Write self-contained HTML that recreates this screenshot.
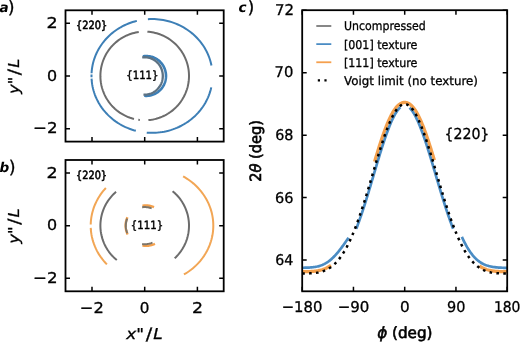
<!DOCTYPE html>
<html><head><meta charset="utf-8"><style>html,body{margin:0;padding:0;background:#fff;overflow:hidden}svg{display:block}</style></head>
<body>
<svg width="520" height="342" viewBox="0 0 520 342" text-rendering="geometricPrecision" font-family='"DejaVu Sans", "Liberation Sans", sans-serif'>
<rect width="520" height="342" fill="#fff"/>
<path d="M147.89,19.18 L150.08,19.08 L152.28,19.05 L154.48,19.1 L156.67,19.22 L158.86,19.42 L161.04,19.69 L163.21,20.04 L165.36,20.46 L167.5,20.95 L169.61,21.51 L171.7,22.15 L173.77,22.86 L175.81,23.64 L177.81,24.49 L179.78,25.4 L181.72,26.39 L183.61,27.44 L185.47,28.55 L187.28,29.72 L189.04,30.96 L190.75,32.26 L192.42,33.61 L194.02,35.02 L195.58,36.48 L197.07,38 L198.51,39.56 L199.89,41.18 L201.2,42.84 L202.45,44.54 L203.63,46.28 L204.74,48.07 L205.78,49.89 L206.75,51.74 L207.65,53.63 L208.48,55.55 L209.23,57.49 L209.9,59.46 L210.5,61.45 L211.02,63.46 L211.47,65.48 M211.26,87.39 L210.78,89.41 L210.22,91.41 L209.59,93.4 L208.87,95.35 L208.08,97.29 L207.22,99.19 L206.29,101.07 L205.28,102.91 L204.2,104.71 L203.05,106.48 L201.84,108.21 L200.56,109.89 L199.21,111.53 L197.81,113.12 L196.34,114.66 L194.81,116.16 L193.23,117.59 L191.59,118.98 L189.9,120.3 L188.16,121.57 L186.37,122.78 L184.53,123.92 L182.66,125 L180.74,126.02 L178.78,126.97 L176.79,127.85 L174.77,128.67 L172.71,129.41 L170.63,130.09 L168.52,130.69 L166.4,131.22 L164.25,131.67 L162.08,132.05 L159.91,132.36 L157.72,132.6 L155.52,132.75 L153.33,132.84 L151.12,132.84 L148.92,132.78 L146.73,132.63 M135.83,130.78 L133.69,130.18 L131.58,129.51 L129.5,128.77 L127.44,127.95 L125.42,127.07 L123.44,126.11 L121.49,125.09 L119.59,124 L117.73,122.84 L115.91,121.62 L114.15,120.34 L112.44,119 L110.78,117.6 L109.17,116.14 L107.63,114.63 L106.14,113.06 L104.72,111.45 L103.36,109.79 L102.07,108.08 L100.84,106.33 L99.69,104.53 L98.6,102.7 L97.59,100.83 L96.65,98.93 L95.79,96.99 L95,95.03 L94.29,93.04 L93.66,91.03 L93.11,89 L92.64,86.95 L92.25,84.89 L91.94,82.81 L91.71,80.72 L91.57,78.63 M91.52,77.34 L91.5,76.41 L91.5,75.49 L91.52,74.56 M91.57,73.27 L91.71,71.21 L91.93,69.15 L92.23,67.11 L92.62,65.07 L93.07,63.05 L93.61,61.05 L94.22,59.07 L94.91,57.11 L95.68,55.17 L96.52,53.26 L97.43,51.38 L98.41,49.54 L99.47,47.72 L100.59,45.95 L101.78,44.21 L103.04,42.52 L104.36,40.87 L105.75,39.27 L107.2,37.71 L108.7,36.21 L110.26,34.76 L111.88,33.36 L113.55,32.02 L115.27,30.74 L117.04,29.51 L118.85,28.35 L120.71,27.25 L122.61,26.21 L124.55,25.24 L126.53,24.34 L128.54,23.5 L130.58,22.74 L132.64,22.04 L134.74,21.42 L136.85,20.86" stroke="#3d7fb6" stroke-width="2.0" fill="none"/>
<path d="M147.4,31.73 L148.98,31.86 L150.55,32.04 L152.11,32.27 L153.67,32.57 L155.21,32.91 L156.74,33.32 L158.25,33.77 L159.74,34.28 L161.22,34.85 L162.68,35.46 L164.11,36.13 L165.52,36.85 L166.9,37.61 L168.25,38.43 L169.58,39.29 L170.87,40.2 L172.13,41.16 L173.35,42.16 L174.54,43.2 L175.68,44.29 L176.79,45.41 L177.86,46.58 L178.89,47.78 L179.87,49.02 L180.81,50.29 L181.7,51.59 L182.55,52.93 L183.35,54.29 L184.09,55.69 L184.79,57.1 L185.44,58.54 L186.03,60.01 L186.57,61.49 L187.06,63 L187.5,64.52 L187.88,66.05 L188.21,67.6 L188.48,69.15 L188.69,70.72 L188.85,72.29 L188.95,73.87 L189,75.45 L188.99,77.03 L188.92,78.61 L188.8,80.18 L188.62,81.75 L188.38,83.32 L188.09,84.87 L187.75,86.41 L187.35,87.94 L186.89,89.45 L186.38,90.95 L185.82,92.43 L185.21,93.88 L184.54,95.32 L183.83,96.72 L183.06,98.11 L182.25,99.46 L181.38,100.79 L180.47,102.08 L179.52,103.34 L178.52,104.56 L177.48,105.75 L176.39,106.9 L175.27,108.01 L174.11,109.08 L172.91,110.11 L171.67,111.09 L170.4,112.03 L169.1,112.93 L167.76,113.77 L166.4,114.57 L165.01,115.32 L163.59,116.02 L162.15,116.67 L160.69,117.27 L159.2,117.81 L157.7,118.3 L156.18,118.74 L154.65,119.12 L153.1,119.45 L151.54,119.72 L149.98,119.93 L148.41,120.09 M133.98,118.93 L132.47,118.53 L130.97,118.07 L129.48,117.55 L128.02,116.99 L126.58,116.37 L125.16,115.71 L123.76,114.99 L122.39,114.22 L121.05,113.41 L119.74,112.55 L118.46,111.64 L117.21,110.69 L116,109.69 L114.82,108.66 L113.68,107.58 L112.58,106.46 L111.52,105.3 L110.5,104.11 L109.53,102.88 L108.59,101.62 L107.71,100.32 L106.87,99 L106.08,97.64 L105.33,96.26 L104.64,94.86 L103.99,93.43 L103.4,91.97 L102.86,90.5 L102.37,89.01 L101.93,87.5 L101.55,85.98 L101.22,84.45 L100.95,82.9 L100.73,81.35 L100.57,79.79 L100.46,78.22 L100.41,76.65 L100.41,75.08 L100.47,73.52 L100.58,71.95 L100.75,70.39 L100.97,68.84 L101.25,67.29 L101.59,65.76 L101.98,64.24 L102.42,62.73 L102.91,61.25 L103.46,59.77 L104.06,58.32 L104.71,56.9 L105.41,55.49 L106.16,54.11 L106.95,52.76 L107.8,51.44 L108.69,50.15 L109.63,48.89 L110.61,47.66 L111.63,46.47 L112.69,45.32 L113.8,44.21 L114.94,43.13 L116.12,42.1 L117.34,41.11 L118.59,40.16 L119.87,39.26 L121.19,38.4 L122.53,37.59 L123.91,36.83 L125.3,36.12 L126.73,35.46 L128.17,34.85 L129.64,34.29 L131.12,33.78 L132.62,33.33 L134.14,32.93 L135.67,32.58 L137.21,32.29 L138.76,32.05 M139.84,119.98 L139.33,119.92 L138.82,119.86 L138.31,119.79" stroke="#6c6c6c" stroke-width="2.0" fill="none"/>
<path d="M142.88,56.35 L143.57,56.24 L144.25,56.16 L144.95,56.1 L145.64,56.06 L146.34,56.05 L147.03,56.06 L147.72,56.1 L148.42,56.17 L149.1,56.25 L149.79,56.36 L150.47,56.5 L151.15,56.66 L151.82,56.85 L152.48,57.06 L153.14,57.29 L153.78,57.54 L154.42,57.82 L155.05,58.12 L155.67,58.44 L156.27,58.79 L156.87,59.15 L157.45,59.54 L158.01,59.95 L158.56,60.37 L159.1,60.82 L159.62,61.29 L160.12,61.77 L160.61,62.27 L161.08,62.79 L161.53,63.32 L161.96,63.87 L162.37,64.44 L162.76,65.02 L163.13,65.61 L163.48,66.22 L163.81,66.84 L164.12,67.47 L164.4,68.11 L164.67,68.76 L164.91,69.41 L165.12,70.08 L165.32,70.75 L165.49,71.44 L165.63,72.12 L165.75,72.81 L165.85,73.51 L165.92,74.2 L165.97,74.9 L166,75.61 L166,76.31 L165.97,77.01 L165.92,77.71 L165.85,78.41 L165.75,79.1 L165.63,79.79 L165.48,80.48 L165.31,81.16 L165.12,81.83 L164.9,82.5 L164.66,83.16 L164.4,83.81 L164.11,84.45 L163.81,85.08 L163.48,85.69 L163.13,86.3 L162.75,86.89 L162.36,87.47 L161.95,88.04 L161.52,88.59 L161.07,89.12 L160.6,89.64 L160.11,90.14 L159.61,90.62 L159.09,91.09 L158.55,91.53 L158,91.96 L157.43,92.37 L156.85,92.75 L156.26,93.12 L155.65,93.46 L155.04,93.79 L154.41,94.09 L153.77,94.36 L153.12,94.62 L152.47,94.85 L151.8,95.06 L151.13,95.24 L150.46,95.4 L149.78,95.54 L149.09,95.65 L148.4,95.74 L147.71,95.8 L147.02,95.84 L146.32,95.85 L145.63,95.84 L144.93,95.8 L144.24,95.74" stroke="#3d7fb6" stroke-width="2.6" fill="none"/>
<path d="M142.18,57.43 L142.81,57.35 L143.45,57.29 L144.09,57.26 L144.73,57.25 L145.36,57.26 L146,57.3 L146.64,57.36 L147.27,57.44 L147.9,57.54 L148.53,57.67 L149.15,57.82 L149.77,58 L150.38,58.19 L150.98,58.41 L151.57,58.65 L152.16,58.91 L152.74,59.19 L153.3,59.5 L153.86,59.82 L154.4,60.16 L154.94,60.53 L155.46,60.91 L155.96,61.31 L156.46,61.73 L156.93,62.17 L157.4,62.62 L157.84,63.09 L158.27,63.58 L158.69,64.08 L159.08,64.6 L159.46,65.13 L159.82,65.68 L160.16,66.23 L160.49,66.8 L160.79,67.38 L161.07,67.98 L161.33,68.58 L161.58,69.19 L161.8,69.81 L161.99,70.43 L162.17,71.07 L162.33,71.71 L162.46,72.35 L162.57,73 L162.66,73.65 L162.73,74.31 L162.78,74.97 L162.8,75.63 L162.8,76.29 L162.77,76.95 L162.73,77.6 L162.66,78.26 L162.57,78.91 L162.46,79.56 L162.32,80.21 L162.17,80.85 L161.99,81.48 L161.79,82.11 L161.57,82.73 L161.33,83.34 L161.07,83.94 L160.78,84.53 L160.48,85.11 L160.16,85.68 L159.82,86.24 L159.46,86.78 L159.08,87.31 L158.68,87.83 L158.27,88.33 L157.83,88.82 L157.39,89.29 L156.92,89.74 L156.45,90.18 L155.95,90.6 L155.45,91 L154.93,91.38 L154.39,91.74 L153.85,92.09 L153.29,92.41 L152.72,92.71 L152.15,92.99 L151.56,93.25 L150.97,93.49 L150.36,93.71 L149.75,93.91 L149.14,94.08 L148.52,94.23 L147.89,94.36 L147.26,94.46 L146.63,94.54 L145.99,94.6 L145.35,94.64 L144.71,94.65 L144.07,94.64 L143.44,94.6" stroke="#5d7283" stroke-width="2.3" fill="none"/>
<path d="M183.11,176.36 L184.97,177.43 L186.78,178.55 L188.56,179.73 L190.28,180.97 L191.96,182.27 L193.58,183.62 L195.16,185.03 L196.68,186.49 L198.14,187.99 L199.55,189.55 L200.89,191.15 L202.17,192.79 L203.39,194.47 L204.55,196.2 L205.64,197.96 L206.66,199.75 L207.61,201.58 L208.49,203.44 L209.3,205.33 L210.04,207.24 L210.7,209.18 L211.29,211.13 L211.81,213.11 L212.25,215.1 L212.61,217.1 L212.9,219.12 L213.11,221.14 L213.24,223.17 L213.3,225.2 L213.28,227.23 L213.18,229.26 L213,231.29 L212.75,233.31 L212.42,235.32 L212.01,237.32 L211.53,239.3 L210.97,241.26 L210.34,243.21 L209.64,245.13 L208.86,247.03 L208.01,248.9 L207.09,250.74 L206.1,252.55 L205.04,254.33 L203.91,256.07 L202.72,257.77 L201.47,259.43 L200.15,261.05 L198.77,262.63 L197.33,264.15 L195.84,265.63 L194.29,267.06 L192.68,268.44 L191.03,269.76 L189.32,271.02 L187.57,272.23 L185.78,273.38 L183.94,274.47 M106.88,264.37 L105.37,262.78 L103.92,261.14 L102.55,259.45 L101.24,257.71 L100,255.93 L98.83,254.11 L97.73,252.25 L96.71,250.36 L95.77,248.42 L94.9,246.46 L94.11,244.47 L93.4,242.45 L92.78,240.41 L92.23,238.35 L91.77,236.28 L91.39,234.18 L91.09,232.08 L90.87,229.96 L90.75,227.85 M90.71,224.45 L90.8,222.35 L90.97,220.26 L91.23,218.17 L91.56,216.09 L91.98,214.02 L92.48,211.98 L93.06,209.94 L93.71,207.93 L94.45,205.95 L95.27,203.99 L96.16,202.06 L97.12,200.16 L98.16,198.3 L99.28,196.47 L100.46,194.68 L101.72,192.94 L103.04,191.23 L104.42,189.58 L105.88,187.97" stroke="#f2a655" stroke-width="2.0" fill="none"/>
<path d="M172.58,191.22 L173.79,192.24 L174.97,193.3 L176.11,194.41 L177.2,195.55 L178.26,196.73 L179.27,197.95 L180.24,199.21 L181.16,200.49 L182.04,201.82 L182.87,203.17 L183.65,204.55 L184.38,205.95 L185.06,207.38 L185.69,208.84 L186.26,210.32 L186.78,211.81 L187.25,213.33 L187.67,214.86 L188.02,216.4 L188.33,217.96 L188.57,219.52 L188.77,221.1 L188.9,222.68 L188.98,224.26 L189,225.84 L188.96,227.43 L188.87,229.01 L188.72,230.59 L188.52,232.16 L188.26,233.72 L187.94,235.28 L187.57,236.82 L187.14,238.34 L186.66,239.85 L186.13,241.35 L185.54,242.82 L184.9,244.27 L184.21,245.69 L183.46,247.09 L182.67,248.47 L181.83,249.81 L180.94,251.12 L180.01,252.4 L179.03,253.65 L178.01,254.86 L176.94,256.03 L175.83,257.17 L174.69,258.26 M116.82,260.08 L115.6,259.06 L114.43,257.99 L113.28,256.88 L112.19,255.74 L111.13,254.55 L110.11,253.33 L109.14,252.07 L108.22,250.78 L107.34,249.46 L106.51,248.1 L105.73,246.72 L105,245.3 L104.32,243.87 L103.69,242.41 L103.12,240.93 L102.6,239.43 L102.13,237.91 L101.72,236.37 L101.36,234.82 L101.06,233.26 L100.81,231.7 L100.63,230.12 L100.49,228.53 L100.42,226.95 L100.4,225.36 L100.44,223.77 L100.54,222.18 L100.69,220.6 L100.9,219.03 L101.16,217.46 L101.49,215.9 L101.86,214.36 L102.29,212.83 L102.78,211.32 L103.32,209.83 L103.92,208.35 L104.56,206.9 L105.26,205.47 L106.01,204.07 L106.81,202.7 L107.66,201.35 L108.55,200.04 L109.49,198.76 L110.48,197.52 L111.51,196.31 L112.58,195.14 L113.7,194 L114.85,192.91 L116.05,191.86" stroke="#6c6c6c" stroke-width="2.0" fill="none"/>
<path d="M142.44,205.74 L143.22,205.63 L144.01,205.54 L144.8,205.48 L145.58,205.45 L146.37,205.46 L147.16,205.49 L147.95,205.55 L148.73,205.65 L149.51,205.77 L150.28,205.93 L151.05,206.11 L151.81,206.32 L152.56,206.57 L153.3,206.84 L154.03,207.14 M154.93,243.74 L154.24,244.06 L153.55,244.36 L152.85,244.63 L152.13,244.87 L151.41,245.09 L150.68,245.28 L149.95,245.44 L149.2,245.58 L148.46,245.69 L147.71,245.77 L146.95,245.82 L146.2,245.85 L145.45,245.84 L144.69,245.81 L143.94,245.76 L143.19,245.67 L142.44,245.56 M127.65,234.51 L127.34,233.83 L127.05,233.15 L126.79,232.46 L126.55,231.75 L126.34,231.04 L126.15,230.32 L125.99,229.6 L125.86,228.87 L125.75,228.13 L125.68,227.4 L125.63,226.66 L125.6,225.91 L125.61,225.17 L125.64,224.43 L125.7,223.69 L125.78,222.96 L125.89,222.22 L126.03,221.49 L126.2,220.77 L126.39,220.05 L126.61,219.35 L126.86,218.64 L127.13,217.95 L127.43,217.27" stroke="#f4a04c" stroke-width="2.4" fill="none"/>
<path d="M142.13,207.22 L142.88,207.14 L143.62,207.08 L144.37,207.05 L145.11,207.05 L145.86,207.08 L146.6,207.14 L147.34,207.23 L148.08,207.35 L148.81,207.49 L149.53,207.67 L150.25,207.87 L150.96,208.1 L151.66,208.36 M152.51,242.59 L151.86,242.86 L151.2,243.12 L150.53,243.34 L149.85,243.55 L149.17,243.72 L148.47,243.88 L147.78,244 L147.08,244.1 L146.37,244.18 L145.67,244.23 L144.96,244.25 L144.25,244.24 L143.54,244.22 L142.84,244.16 L142.13,244.08 M127.43,233.22 L127.16,232.58 L126.91,231.94 L126.69,231.29 L126.49,230.63 L126.32,229.97 L126.17,229.3 L126.04,228.63 L125.94,227.95 L125.87,227.26 L125.82,226.58 L125.8,225.89 L125.81,225.21 L125.83,224.52 L125.89,223.84 L125.97,223.16 L126.08,222.48 L126.21,221.8 L126.37,221.14 L126.55,220.47 L126.75,219.82 L126.98,219.17 L127.24,218.53" stroke="#7d7569" stroke-width="2" fill="none"/>
<path d="M92,10.3V14.8M92,141.6V137.1M144.7,10.3V14.8M144.7,141.6V137.1M197.4,10.3V14.8M197.4,141.6V137.1M65.5,23.25H70M223.7,23.25H219.2M65.5,75.95H70M223.7,75.95H219.2M65.5,128.65H70M223.7,128.65H219.2" stroke="#000" stroke-width="1.5" fill="none"/>
<rect x="65.5" y="10.3" width="158.2" height="131.3" stroke="#000" stroke-width="1.8" fill="none"/>
<path d="M92,160V164.5M92,291.3V286.8M144.7,160V164.5M144.7,291.3V286.8M197.4,160V164.5M197.4,291.3V286.8M65.5,172.95H70M223.7,172.95H219.2M65.5,225.65H70M223.7,225.65H219.2M65.5,278.35H70M223.7,278.35H219.2" stroke="#000" stroke-width="1.5" fill="none"/>
<rect x="65.5" y="160" width="158.2" height="131.3" stroke="#000" stroke-width="1.8" fill="none"/>
<path d="M302.2,271.63 L303.1,271.63 L304,271.63 L304.9,271.63 L305.79,271.62 L306.69,271.62 L307.59,271.6 L308.49,271.59 L309.39,271.56 L310.29,271.53 L311.19,271.49 L312.09,271.44 L312.98,271.38 L313.88,271.3 L314.78,271.21 L315.68,271.1 L316.58,270.98 L317.48,270.83 L318.38,270.67 L319.27,270.48 L320.17,270.27 L321.07,270.03 L321.97,269.77 L322.87,269.47 L323.77,269.15 L324.67,268.79 L325.57,268.4 L326.46,267.97 L327.36,267.51 L328.26,267.01 L329.16,266.46 L330.06,265.87 L330.96,265.24 M374.6,161.63 L375.18,159.71 L375.75,157.8 L376.33,155.9 L376.91,154.01 L377.49,152.14 L378.06,150.28 L378.64,148.44 L379.22,146.61 L379.8,144.81 L380.38,143.02 L380.95,141.26 L381.53,139.52 L382.11,137.81 L382.69,136.12 L383.27,134.47 L383.85,132.84 L384.43,131.24 L385.01,129.67 L385.59,128.13 L386.17,126.63 L386.76,125.17 L387.34,123.74 L387.92,122.35 L388.5,121 L389.09,119.68 L389.68,118.41 L390.26,117.18 L390.85,116 L391.44,114.85 L392.03,113.76 L392.62,112.7 L393.22,111.7 L393.82,110.74 L394.42,109.82 L395.02,108.96 L395.63,108.14 L396.25,107.38 L396.87,106.66 L397.5,105.99 L398.13,105.38 L398.78,104.81 L399.44,104.3 L400.11,103.85 L400.79,103.45 L401.49,103.11 L402.2,102.84 L402.93,102.63 L403.66,102.49 L404.41,102.42 L405.15,102.43 L405.89,102.51 L406.63,102.67 L407.35,102.89 L408.06,103.18 L408.75,103.53 L409.44,103.94 L410.1,104.4 L410.76,104.93 L411.4,105.5 L412.04,106.13 L412.66,106.81 L413.28,107.53 L413.89,108.31 L414.5,109.14 L415.11,110.01 L415.71,110.93 L416.31,111.9 L416.9,112.92 L417.49,113.98 L418.08,115.09 L418.67,116.24 L419.26,117.44 L419.85,118.68 L420.43,119.96 L421.02,121.28 L421.6,122.64 L422.18,124.04 L422.77,125.47 L423.35,126.94 L423.93,128.45 L424.51,129.99 L425.09,131.57 L425.67,133.17 L426.25,134.81 L426.83,136.48 L427.41,138.17 L427.99,139.89 L428.57,141.63 L429.15,143.4 L429.72,145.18 L430.3,146.99 L430.88,148.82 L431.46,150.67 L432.04,152.53 L432.61,154.41 L433.19,156.3 L433.77,158.2 L434.34,160.12 M479.3,265.84 L480.2,266.43 L481.1,266.98 L482,267.49 L482.9,267.95 L483.8,268.38 L484.7,268.78 L485.6,269.13 L486.5,269.46 L487.4,269.76 L488.3,270.02 L489.2,270.26 L490.1,270.47 L491,270.66 L491.9,270.83 L492.8,270.97 L493.7,271.1 L494.6,271.21 L495.5,271.3 L496.4,271.38 L497.3,271.44 L498.2,271.49 L499.1,271.53 L500,271.56 L500.9,271.59 L501.8,271.6 L502.7,271.62 L503.6,271.62 L504.5,271.63 L505.4,271.63 L506.3,271.63 L507.2,271.63" stroke="#f4a04c" stroke-width="3.3" fill="none" stroke-linejoin="round"/>
<path d="M356.28,228.71 L356.86,227.2 L357.44,225.68 L358.01,224.12 L358.59,222.54 L359.17,220.94 L359.75,219.32 L360.33,217.67 L360.91,216 L361.49,214.3 L362.06,212.59 L362.64,210.85 L363.22,209.1 L363.8,207.32 L364.38,205.53 L364.95,203.72 L365.53,201.9 L366.11,200.05 L366.69,198.2 L367.27,196.33 L367.84,194.44 L368.42,192.55 L369,190.64 L369.57,188.73 L370.15,186.8 L370.73,184.87 L371.31,182.93 L371.88,180.99 L372.46,179.04 L373.04,177.09 L373.61,175.14 L374.19,173.19 L374.77,171.24 L375.34,169.29 L375.92,167.35 L376.5,165.41 L377.07,163.48 L377.65,161.56 L378.23,159.64 L378.8,157.74 L379.38,155.85 L379.96,153.97 L380.53,152.11 L381.11,150.26 L381.68,148.44 L382.26,146.63 L382.83,144.84 L383.41,143.08 L383.99,141.34 L384.56,139.62 L385.14,137.93 L385.71,136.27 L386.28,134.64 L386.86,133.04 L387.43,131.48 L388.01,129.94 L388.58,128.44 L389.15,126.98 L389.73,125.56 L390.3,124.17 L390.87,122.83 L391.44,121.53 L392.01,120.27 L392.58,119.05 L393.15,117.88 L393.72,116.75 L394.29,115.68 L394.85,114.65 L395.42,113.67 L395.98,112.75 L396.54,111.87 L397.1,111.05 L397.65,110.28 L398.2,109.57 L398.75,108.91 L399.29,108.31 L399.83,107.76 L400.36,107.27 M409.56,107.75 L410.1,108.3 L410.64,108.9 L411.19,109.56 L411.74,110.27 L412.3,111.04 L412.85,111.86 L413.41,112.74 L413.98,113.66 L414.54,114.64 L415.11,115.67 L415.67,116.74 L416.24,117.87 L416.81,119.04 L417.38,120.25 L417.95,121.51 L418.52,122.81 L419.1,124.16 L419.67,125.54 L420.24,126.97 L420.81,128.43 L421.39,129.93 L421.96,131.46 L422.54,133.03 L423.11,134.63 L423.68,136.26 L424.26,137.92 L424.83,139.61 L425.41,141.32 L425.99,143.06 L426.56,144.83 L427.14,146.61 L427.71,148.42 L428.29,150.25 L428.86,152.09 L429.44,153.96 L430.02,155.83 L430.59,157.73 L431.17,159.63 L431.75,161.54 L432.32,163.47 L432.9,165.4 L433.48,167.34 L434.05,169.28 L434.63,171.23 L435.21,173.18 L435.78,175.13 L436.36,177.08 L436.94,179.03 L437.51,180.98 L438.09,182.92 L438.67,184.86 L439.25,186.79 L439.82,188.72 L440.4,190.63 L440.98,192.54 L441.56,194.44 L442.13,196.32 L442.71,198.19 L443.29,200.05 L443.87,201.89 L444.44,203.72 L445.02,205.53 L445.6,207.32 L446.18,209.09 L446.76,210.85 L447.33,212.58 L447.91,214.3 L448.49,215.99 L449.07,217.66 L449.65,219.31 L450.23,220.94 L450.81,222.54 L451.39,224.12 L451.96,225.67 L452.54,227.2 L453.12,228.71 M302.2,267.77 L303.07,267.75 L303.95,267.74 L304.82,267.71 L305.7,267.69 L306.57,267.66 L307.45,267.63 L308.32,267.58 L309.2,267.53 L310.07,267.48 L310.95,267.41 L311.82,267.33 L312.69,267.24 L313.57,267.13 L314.44,267.01 L315.32,266.87 L316.19,266.71 L317.07,266.53 L317.94,266.33 L318.82,266.1 L319.69,265.85 L320.57,265.57 L321.44,265.26 L322.32,264.92 L323.19,264.54 L324.06,264.13 L324.94,263.68 L325.81,263.19 L326.69,262.66 L327.56,262.1 L328.44,261.49 L329.31,260.84 L330.19,260.15 L331.06,259.41 L331.94,258.63 L332.81,257.81 L333.68,256.95 L334.56,256.05 L335.43,255.11 L336.31,254.13 L337.18,253.12 L338.06,252.07 L338.93,250.98 L339.81,249.87 L340.68,248.73 L341.56,247.57 L342.43,246.38 L343.31,245.18 L344.18,243.96 L345.05,242.72 L345.93,241.48 L346.8,240.23 L347.68,238.98 L348.55,237.73 M461.87,236.94 L462.74,238.79 L463.62,240.58 L464.49,242.3 L465.36,243.96 L466.23,245.54 L467.1,247.07 L467.97,248.52 L468.85,249.91 L469.72,251.22 L470.59,252.48 L471.46,253.66 L472.33,254.78 L473.2,255.84 L474.08,256.83 L474.95,257.76 L475.82,258.64 L476.69,259.45 L477.56,260.21 L478.43,260.92 L479.31,261.57 L480.18,262.18 L481.05,262.74 L481.92,263.26 L482.79,263.73 L483.66,264.16 L484.54,264.56 L485.41,264.92 L486.28,265.25 L487.15,265.55 L488.02,265.82 L488.89,266.07 L489.77,266.29 L490.64,266.49 L491.51,266.67 L492.38,266.82 L493.25,266.97 L494.12,267.09 L495,267.2 L495.87,267.3 L496.74,267.39 L497.61,267.47 L498.48,267.53 L499.35,267.59 L500.23,267.64 L501.1,267.69 L501.97,267.73 L502.84,267.76 L503.71,267.79 L504.58,267.81 L505.46,267.83 L506.33,267.85 L507.2,267.87" stroke="#4a8cc4" stroke-width="2.7" fill="none" stroke-linejoin="round"/>
<path d="M302.2,273.44 L303.05,273.44 L303.91,273.44 L304.76,273.44 L305.62,273.44 L306.47,273.43 L307.32,273.42 L308.18,273.41 L309.03,273.39 L309.89,273.36 L310.74,273.32 L311.6,273.28 L312.45,273.23 L313.3,273.16 L314.16,273.09 L315.01,273 L315.87,272.89 L316.72,272.77 L317.57,272.63 L318.43,272.47 L319.28,272.29 L320.14,272.09 L320.99,271.86 L321.85,271.62 L322.7,271.34 L323.55,271.04 L324.41,270.71 L325.26,270.35 L326.12,269.95 L326.97,269.53 L327.82,269.07 L328.68,268.57 L329.53,268.03 L330.39,267.46 L331.24,266.84 L332.1,266.18 L332.95,265.48 L333.8,264.74 L334.66,263.94 L335.51,263.1 L336.37,262.21 L337.22,261.27 L338.07,260.28 L338.93,259.23 L339.78,258.13 L340.64,256.98 L341.49,255.76 L342.35,254.5 L343.2,253.17 L344.05,251.78 L344.91,250.34 L345.76,248.83 L346.62,247.27 L347.47,245.64 L348.32,243.95 L349.18,242.21 L350.03,240.4 L350.89,238.53 L351.74,236.59 L352.6,234.6 L353.45,232.55 L354.3,230.44 L355.16,228.27 L356.01,226.05 L356.87,223.77 L357.72,221.43 L358.57,219.04 L359.43,216.6 L360.28,214.11 L361.14,211.58 L361.99,208.99 L362.85,206.37 L363.7,203.71 L364.55,201.01 L365.41,198.27 L366.26,195.5 L367.12,192.71 L367.97,189.89 L368.82,187.05 L369.68,184.19 L370.53,181.32 L371.39,178.44 L372.24,175.55 L373.1,172.66 L373.95,169.77 L374.8,166.89 L375.66,164.03 L376.51,161.17 L377.37,158.34 L378.22,155.53 L379.07,152.75 L379.93,150.01 L380.78,147.3 L381.64,144.64 L382.49,142.03 L383.35,139.47 L384.2,136.96 L385.05,134.52 L385.91,132.15 L386.76,129.84 L387.62,127.61 L388.47,125.46 L389.32,123.39 L390.18,121.41 L391.03,119.52 L391.89,117.73 L392.74,116.03 L393.6,114.44 L394.45,112.95 L395.3,111.57 L396.16,110.3 L397.01,109.14 L397.87,108.1 L398.72,107.17 L399.57,106.37 L400.43,105.68 L401.28,105.12 L402.14,104.68 L402.99,104.37 L403.85,104.18 L404.7,104.12 L405.55,104.18 L406.41,104.37 L407.26,104.68 L408.12,105.12 L408.97,105.68 L409.82,106.37 L410.68,107.17 L411.53,108.1 L412.39,109.14 L413.24,110.3 L414.1,111.57 L414.95,112.95 L415.8,114.44 L416.66,116.03 L417.51,117.73 L418.37,119.52 L419.22,121.41 L420.07,123.39 L420.93,125.46 L421.78,127.61 L422.64,129.84 L423.49,132.15 L424.35,134.52 L425.2,136.96 L426.05,139.47 L426.91,142.03 L427.76,144.64 L428.62,147.3 L429.47,150.01 L430.32,152.75 L431.18,155.53 L432.03,158.34 L432.89,161.17 L433.74,164.03 L434.6,166.89 L435.45,169.77 L436.3,172.66 L437.16,175.55 L438.01,178.44 L438.87,181.32 L439.72,184.19 L440.57,187.05 L441.43,189.89 L442.28,192.71 L443.14,195.5 L443.99,198.27 L444.85,201.01 L445.7,203.71 L446.55,206.37 L447.41,208.99 L448.26,211.58 L449.12,214.11 L449.97,216.6 L450.82,219.04 L451.68,221.43 L452.53,223.77 L453.39,226.05 L454.24,228.27 L455.1,230.44 L455.95,232.55 L456.8,234.6 L457.66,236.59 L458.51,238.53 L459.37,240.4 L460.22,242.21 L461.07,243.95 L461.93,245.64 L462.78,247.27 L463.64,248.83 L464.49,250.34 L465.35,251.78 L466.2,253.17 L467.05,254.5 L467.91,255.76 L468.76,256.98 L469.62,258.13 L470.47,259.23 L471.32,260.28 L472.18,261.27 L473.03,262.21 L473.89,263.1 L474.74,263.94 L475.6,264.74 L476.45,265.48 L477.3,266.18 L478.16,266.84 L479.01,267.46 L479.87,268.03 L480.72,268.57 L481.57,269.07 L482.43,269.53 L483.28,269.95 L484.14,270.35 L484.99,270.71 L485.85,271.04 L486.7,271.34 L487.55,271.62 L488.41,271.86 L489.26,272.09 L490.12,272.29 L490.97,272.47 L491.82,272.63 L492.68,272.77 L493.53,272.89 L494.39,273 L495.24,273.09 L496.1,273.16 L496.95,273.23 L497.8,273.28 L498.66,273.32 L499.51,273.36 L500.37,273.39 L501.22,273.41 L502.07,273.42 L502.93,273.43 L503.78,273.44 L504.64,273.44 L505.49,273.44 L506.35,273.44 L507.2,273.44" stroke="#000" stroke-width="2.5" stroke-dasharray="2.6 4.3" fill="none"/>
<path d="M302.2,10.2V14.7M302.2,291.3V286.8M353.45,10.2V14.7M353.45,291.3V286.8M404.7,10.2V14.7M404.7,291.3V286.8M455.95,10.2V14.7M455.95,291.3V286.8M507.2,10.2V14.7M507.2,291.3V286.8M302.2,260.07H306.7M507.2,260.07H502.7M302.2,197.6H306.7M507.2,197.6H502.7M302.2,135.13H306.7M507.2,135.13H502.7M302.2,72.67H306.7M507.2,72.67H502.7M302.2,10.2H306.7M507.2,10.2H502.7" stroke="#000" stroke-width="1.5" fill="none"/>
<rect x="302.2" y="10.2" width="205" height="281.1" stroke="#000" stroke-width="1.8" fill="none"/>
<path d="M316.3,26H331.3" stroke="#7a7a7a" stroke-width="1.8"/>
<path d="M316.3,44.13H331.3" stroke="#4a8cc4" stroke-width="1.8"/>
<path d="M316.3,62.26H331.3" stroke="#f5a04e" stroke-width="1.8"/>
<path d="M317.8,80.39h2.2M324.4,80.39h2.2" stroke="#000" stroke-width="2.2"/>
<g stroke="#000" stroke-width="0.3">
<text x="46.58" y="27.8" font-size="14.8" textLength="11.14" lengthAdjust="spacingAndGlyphs">2</text>
<text x="47.02" y="80.7" font-size="14.8" textLength="10.13" lengthAdjust="spacingAndGlyphs">0</text>
<text x="32.97" y="133.4" font-size="14.8" textLength="24.47" lengthAdjust="spacingAndGlyphs">−2</text>
<text x="46.58" y="177.5" font-size="14.8" textLength="11.14" lengthAdjust="spacingAndGlyphs">2</text>
<text x="47.02" y="230.4" font-size="14.8" textLength="10.13" lengthAdjust="spacingAndGlyphs">0</text>
<text x="32.97" y="283.1" font-size="14.8" textLength="24.47" lengthAdjust="spacingAndGlyphs">−2</text>
<text x="79.79" y="312.8" font-size="14.8" textLength="23.94" lengthAdjust="spacingAndGlyphs">−2</text>
<text x="139.72" y="312.6" font-size="14.8" textLength="9.65" lengthAdjust="spacingAndGlyphs">0</text>
<text x="191.91" y="312.7" font-size="14.8" textLength="11.01" lengthAdjust="spacingAndGlyphs">2</text>
<text x="275.06" y="14.9" font-size="14.8" textLength="19.01" lengthAdjust="spacingAndGlyphs">72</text>
<text x="274.57" y="77.1" font-size="14.8" textLength="18.83" lengthAdjust="spacingAndGlyphs">70</text>
<text x="275.17" y="139.5" font-size="14.8" textLength="18.26" lengthAdjust="spacingAndGlyphs">68</text>
<text x="274.99" y="202.5" font-size="14.8" textLength="18.52" lengthAdjust="spacingAndGlyphs">66</text>
<text x="275.21" y="264.8" font-size="14.8" textLength="18.08" lengthAdjust="spacingAndGlyphs">64</text>
<text x="281.72" y="312.4" font-size="14.8" textLength="40.65" lengthAdjust="spacingAndGlyphs">−180</text>
<text x="337.69" y="312.4" font-size="14.8" textLength="31.69" lengthAdjust="spacingAndGlyphs">−90</text>
<text x="399.98" y="312.4" font-size="14.8" textLength="9.69" lengthAdjust="spacingAndGlyphs">0</text>
<text x="447.07" y="312.4" font-size="14.8" textLength="18.36" lengthAdjust="spacingAndGlyphs">90</text>
<text x="493.89" y="312.4" font-size="14.8" textLength="26.57" lengthAdjust="spacingAndGlyphs">180</text>
<text x="126.18" y="338.6" font-size="15" textLength="36.54" lengthAdjust="spacingAndGlyphs"><tspan font-style="italic">x"</tspan><tspan dx="1.5" font-size="17" dy="1.5">/</tspan><tspan dy="-1.5" dx="1" font-style="italic">L</tspan></text>
<text x="377.17" y="337.7" font-size="15.5" textLength="55.36" lengthAdjust="spacingAndGlyphs" stroke-width="0.6"><tspan font-style="italic">ϕ</tspan> (deg)</text>
<text transform="translate(261,181.84) rotate(-90)" font-size="15.5" textLength="61.89" lengthAdjust="spacingAndGlyphs" stroke-width="0.6">2<tspan font-style="italic">θ</tspan> (deg)</text>
<text transform="translate(18.7,94.03) rotate(-90)" font-size="15" textLength="35.27" lengthAdjust="spacingAndGlyphs"><tspan font-style="italic">y"</tspan><tspan dx="1.5" font-size="17" dy="1.5">/</tspan><tspan dy="-1.5" dx="1" font-style="italic">L</tspan></text>
<text transform="translate(18.7,243.72) rotate(-90)" font-size="15" textLength="35.47" lengthAdjust="spacingAndGlyphs"><tspan font-style="italic">y"</tspan><tspan dx="1.5" font-size="17" dy="1.5">/</tspan><tspan dy="-1.5" dx="1" font-style="italic">L</tspan></text>
<text x="344.1" y="30.2" font-size="12.1" textLength="81.55" lengthAdjust="spacingAndGlyphs">Uncompressed</text>
<text x="343.94" y="48.6" font-size="12.1" textLength="73.37" lengthAdjust="spacingAndGlyphs">[001] texture</text>
<text x="343.94" y="66.9" font-size="12.1" textLength="73.37" lengthAdjust="spacingAndGlyphs">[111] texture</text>
<text x="344" y="85.3" font-size="12.1" textLength="133.97" lengthAdjust="spacingAndGlyphs">Voigt limit (no texture)</text>
<text x="76.1" y="29" font-size="11.3" textLength="31.27" lengthAdjust="spacingAndGlyphs" stroke-width="0.6">{220}</text>
<text x="76.11" y="179" font-size="11.3" textLength="30.93" lengthAdjust="spacingAndGlyphs" stroke-width="0.6">{220}</text>
<text x="126.29" y="79.1" font-size="11.4" textLength="32.2" lengthAdjust="spacingAndGlyphs" stroke-width="0.45">{111}</text>
<text x="130.87" y="228.6" font-size="11.4" textLength="32.26" lengthAdjust="spacingAndGlyphs" stroke-width="0.45">{111}</text>
<text x="444.39" y="138.6" font-size="15" textLength="45" lengthAdjust="spacingAndGlyphs">{220}</text>
</g>
<text x="-0.6" y="11.8" font-size="13.6"><tspan font-weight="bold" font-style="italic">a</tspan><tspan dx="-0.8" dy="0.9" font-size="17.5" stroke="#000" stroke-width="0.3">)</tspan></text>
<text x="-0.6" y="172.4" font-size="13.6"><tspan font-weight="bold" font-style="italic">b</tspan><tspan dx="-0.4" dy="0.9" font-size="17.5" stroke="#000" stroke-width="0.3">)</tspan></text>
<text x="238.5" y="11.8" font-size="13.6"><tspan font-weight="bold" font-style="italic">c</tspan><tspan dx="1.0" dy="0.9" font-size="17.5" stroke="#000" stroke-width="0.3">)</tspan></text>
</svg>
</body></html>
